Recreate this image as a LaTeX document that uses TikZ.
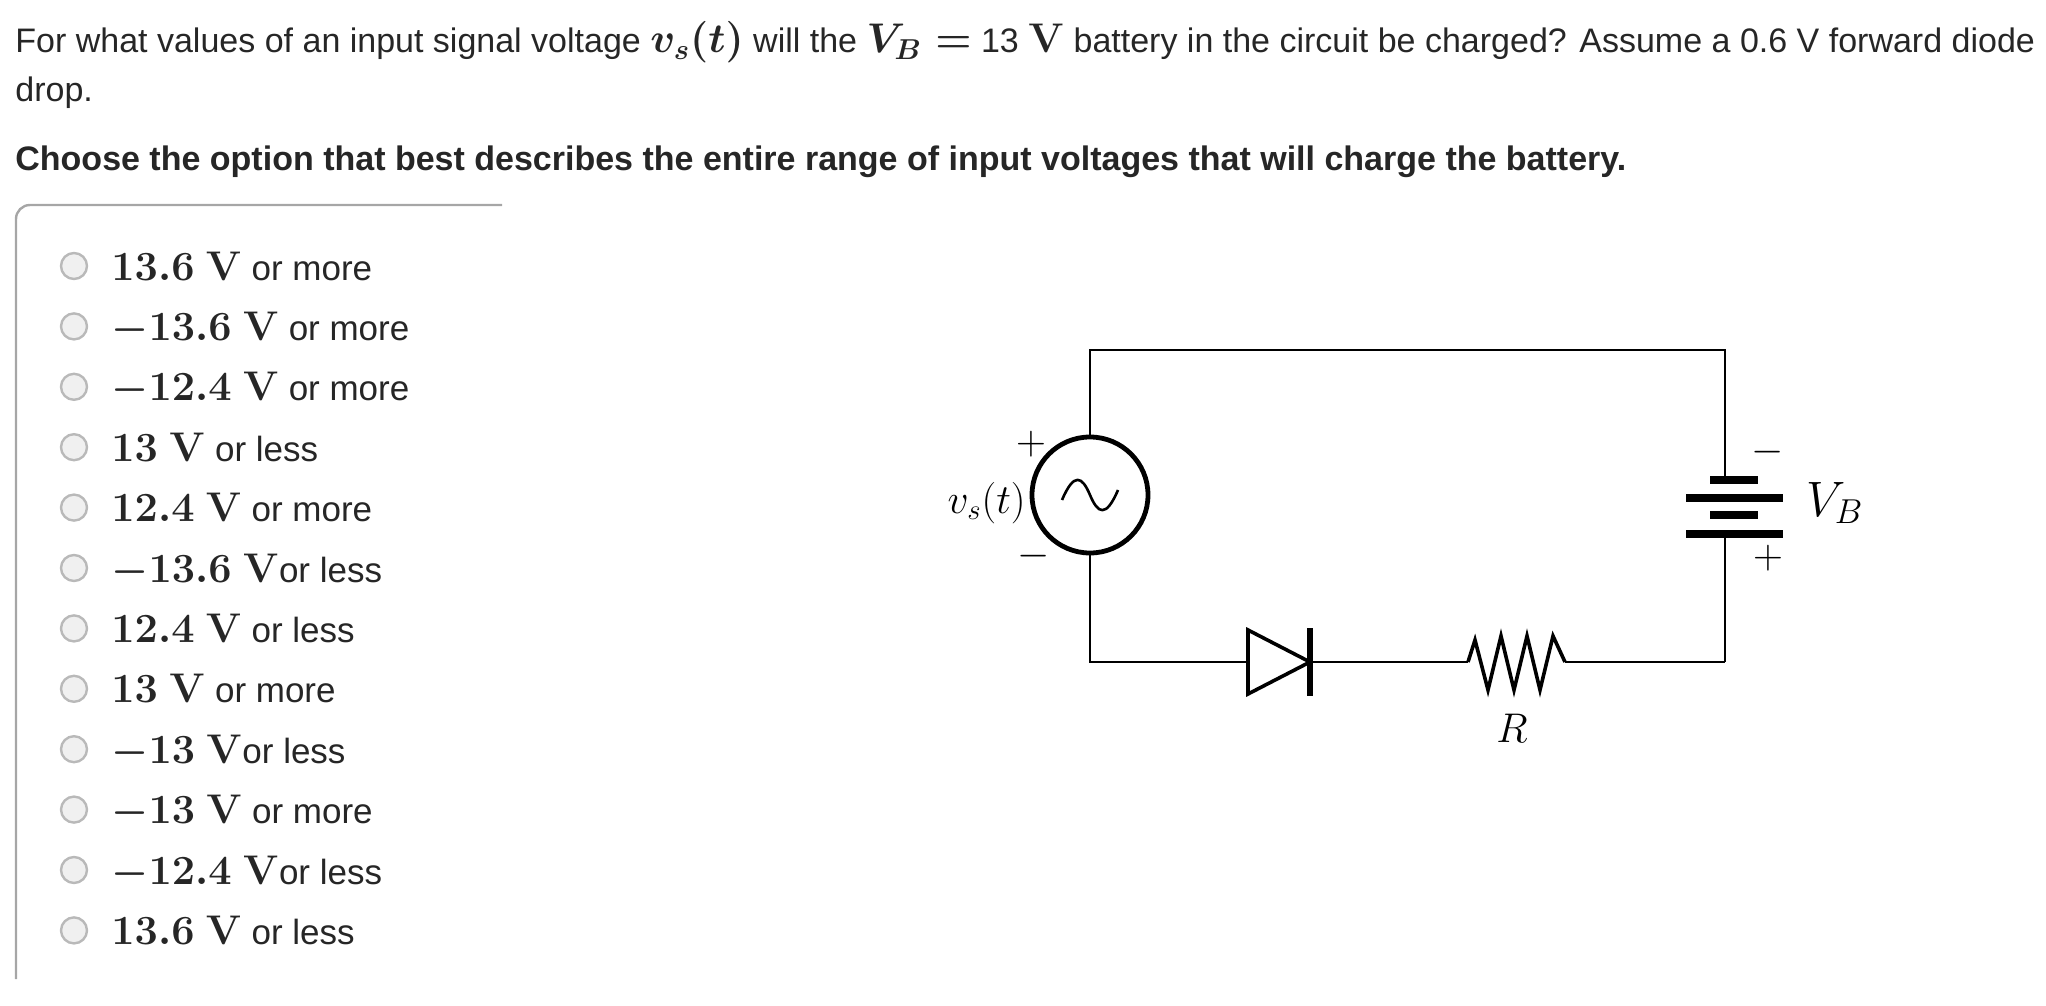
\documentclass[tikz,border=0pt]{standalone}
\usepackage[no-math]{fontspec}
\setmainfont{Liberation Sans}
\tikzset{
  radio/.style={circle,draw=gray!55,line width=1.2pt,fill=gray!12,minimum size=13pt,inner sep=0pt},
  opt/.style={anchor=base west,inner sep=0pt,font=\fontsize{17.5}{22}\selectfont,text=black!85},
  wire/.style={line width=1.2pt},
  plate/.style={line width=4pt},
  lbl/.style={inner sep=0pt,font=\fontsize{20}{24}\selectfont}
}
\newcommand{\mv}[1]{{\fontsize{20.5}{24}\selectfont\boldmath$#1\ \mathrm{V}$}}
\newcommand{\tm}[1]{{\fontsize{20.5}{24}\selectfont\boldmath$#1$}}
\begin{document}
\begin{tikzpicture}[x=0.5pt,y=-0.5pt]
\useasboundingbox (0,0) rectangle (2046,1006);
\node[opt,font=\fontsize{17}{22}\selectfont] (t1) at (15,53) {For what values of an input signal voltage \tm{v_s(t)} will the \tm{V_B=} 13 \tm{\mathrm{V}} battery in the circuit be charged? Assume a 0.6 V forward diode};
\node[opt,font=\fontsize{17}{22}\selectfont] (t2) at (15,102) {drop.};
\node[opt,font=\fontsize{17}{22}\selectfont\bfseries] (t3) at (15,170) {Choose the option that best describes the entire range of input voltages that will charge the battery.};
\draw[gray!70,line width=1.2pt] (502,205) -- (30,205) to[out=180,in=90] (16,219) -- (16,979);
\foreach \i/\a/\b in {0/13.6/ or more,1/-13.6/ or more,2/-12.4/ or more,3/13/ or less,4/12.4/ or more,5/-13.6/or less,6/12.4/ or less,7/13/ or more,8/-13/or less,9/-13/ or more,10/-12.4/or less,11/13.6/ or less}{
  \node[radio] (r\i) at (74,266+60.4*\i) {};
  \node[opt] (o\i) at (111,280+60.4*\i) {\mv{\a}\b};
}
% circuit
\coordinate (tl) at (1090,350);
\coordinate (tr) at (1725,350);
\coordinate (bl) at (1090,662);
\coordinate (br) at (1725,662);
\node[circle,draw,line width=2.4pt,minimum size=58pt,inner sep=0pt] (src) at (1090,495) {};
\draw[line width=1.3pt] (1062,500) .. controls (1074,472) and (1082,476) .. (1090,495) .. controls (1098,514) and (1106,518) .. (1118,490);
\node[lbl] (sp) at (1031,444) {$+$};
\node[lbl] (sm) at (1034,556) {$-$};
\node[lbl,anchor=east] (vs) at (1026,503) {$v_s(t)$};
\draw[wire] (src.north) -- (tl) -- (tr) -- (1725,480);
\draw[wire] (src.south) -- (bl) -- (1248,662);
% diode
\coordinate (da) at (1248,662);
\coordinate (dk) at (1310,662);
\draw[line width=1.8pt,fill=white] (1248,630) -- (1248,694) -- (1310,662) -- cycle;
\draw[line width=3pt] (1310,628) -- (1310,696);
\draw[wire] (dk) -- (1468,662);
% resistor
\draw[line width=1.8pt] (1468,662) -- (1475,640) -- (1488,690) -- (1501,636) -- (1514,690) -- (1527,636) -- (1540,690) -- (1553,636) -- (1565,662);
\draw[wire] (1565,662) -- (br);
\node[lbl] (R) at (1512,728) {$R$};
% battery
\draw[wire] (br) -- (1725,534);
\draw[plate] (1710,480) -- (1758,480);
\draw[plate] (1686,498) -- (1783,498);
\draw[plate] (1710,515) -- (1758,515);
\draw[plate] (1686,534) -- (1783,534);
\node[lbl] (bm) at (1768,452) {$-$};
\node[lbl] (bp) at (1768,558) {$+$};
\node[lbl,font=\fontsize{24}{28}\selectfont] (VB) at (1835,503) {$V_B$};
\end{tikzpicture}
\end{document}
